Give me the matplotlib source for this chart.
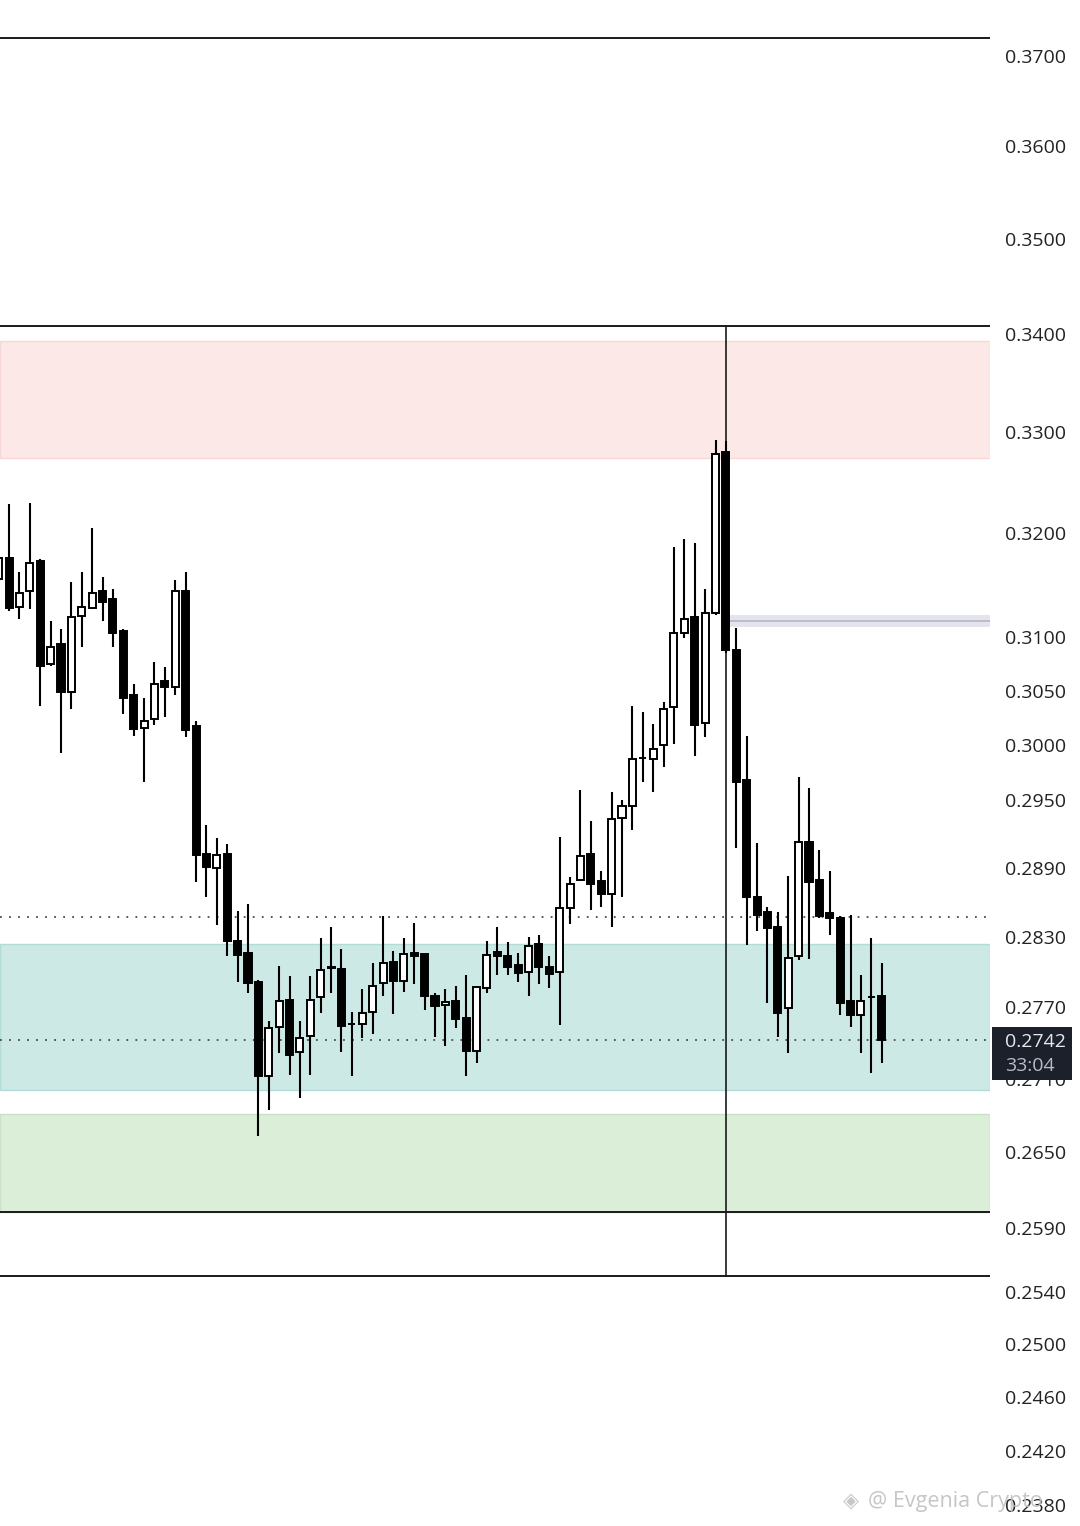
import matplotlib
matplotlib.use("Agg")
import matplotlib.pyplot as plt
from matplotlib.patches import Rectangle
from matplotlib.ticker import FixedLocator, FuncFormatter, NullLocator

plt.rcParams['font.family'] = ['Open Sans', 'DejaVu Sans']

# candle data
opens = [0.3156, 0.3176, 0.3129, 0.3144, 0.3173, 0.3075, 0.3094, 0.3049, 0.3120, 0.3128,
         0.3144, 0.3136, 0.3106, 0.3046, 0.3016, 0.3024, 0.3059, 0.3053, 0.3144, 0.3017,
         0.2902, 0.2890, 0.2902, 0.2826, 0.2816, 0.2791, 0.2712, 0.2753, 0.2776, 0.2732,
         0.2746, 0.2778, 0.2803, 0.2802, 0.2756, 0.2756, 0.2766, 0.2790, 0.2808, 0.2792,
         0.2816, 0.2815, 0.2779, 0.2772, 0.2775, 0.2761, 0.2733, 0.2786, 0.2817, 0.2813,
         0.2806, 0.2800, 0.2824, 0.2804, 0.2800, 0.2855, 0.2879, 0.2902, 0.2878, 0.2867,
         0.2934, 0.2945, 0.2988, 0.2987, 0.3000, 0.3035, 0.3104, 0.3119, 0.3020, 0.3123,
         0.3280, 0.3088, 0.2968, 0.2864, 0.2851, 0.2838, 0.2769, 0.2813, 0.2913, 0.2879,
         0.2850, 0.2846, 0.2775, 0.2763, 0.2778, 0.2779]
highs = [0.3240, 0.3228, 0.3162, 0.3229, 0.3175, 0.3115, 0.3108, 0.3153, 0.3162, 0.3205,
         0.3157, 0.3146, 0.3108, 0.3056, 0.3043, 0.3077, 0.3072, 0.3155, 0.3162, 0.3022,
         0.2928, 0.2916, 0.2911, 0.2852, 0.2858, 0.2793, 0.2758, 0.2805, 0.2796, 0.2758,
         0.2796, 0.2829, 0.2838, 0.2819, 0.2766, 0.2785, 0.2807, 0.2848, 0.2818, 0.2829,
         0.2842, 0.2816, 0.2782, 0.2785, 0.2788, 0.2797, 0.2788, 0.2826, 0.2838, 0.2825,
         0.2816, 0.2830, 0.2831, 0.2813, 0.2917, 0.2882, 0.2959, 0.2931, 0.2887, 0.2957,
         0.2950, 0.3036, 0.3030, 0.3019, 0.3040, 0.3186, 0.3194, 0.3190, 0.3146, 0.3292,
         0.3291, 0.3109, 0.3008, 0.2912, 0.2856, 0.2851, 0.2883, 0.2971, 0.2961, 0.2906,
         0.2887, 0.2848, 0.2849, 0.2797, 0.2829, 0.2807]
lows = [0.3150, 0.3125, 0.3117, 0.3127, 0.3036, 0.3073, 0.2993, 0.3033, 0.3091, 0.3127,
        0.3115, 0.3091, 0.3028, 0.3008, 0.2966, 0.3018, 0.3026, 0.3046, 0.3007, 0.2877,
        0.2864, 0.2840, 0.2813, 0.2791, 0.2782, 0.2663, 0.2684, 0.2731, 0.2713, 0.2694,
        0.2713, 0.2765, 0.2782, 0.2732, 0.2712, 0.2744, 0.2747, 0.2779, 0.2764, 0.2783,
        0.2789, 0.2767, 0.2745, 0.2737, 0.2752, 0.2712, 0.2723, 0.2782, 0.2797, 0.2797,
        0.2791, 0.2779, 0.2789, 0.2786, 0.2755, 0.2841, 0.2878, 0.2853, 0.2856, 0.2838,
        0.2864, 0.2923, 0.2966, 0.2957, 0.2980, 0.3001, 0.3099, 0.2990, 0.3007, 0.3121,
        0.3085, 0.2907, 0.2823, 0.2835, 0.2773, 0.2745, 0.2731, 0.2810, 0.2811, 0.2846,
        0.2831, 0.2763, 0.2753, 0.2731, 0.2715, 0.2723]
closes = [0.3176, 0.3128, 0.3142, 0.3171, 0.3073, 0.3091, 0.3049, 0.3119, 0.3129, 0.3142,
          0.3134, 0.3104, 0.3043, 0.3015, 0.3022, 0.3056, 0.3053, 0.3144, 0.3014, 0.2901,
          0.2891, 0.2901, 0.2826, 0.2814, 0.2790, 0.2712, 0.2752, 0.2775, 0.2730, 0.2744,
          0.2776, 0.2801, 0.2804, 0.2754, 0.2756, 0.2765, 0.2788, 0.2807, 0.2792, 0.2815,
          0.2813, 0.2779, 0.2771, 0.2774, 0.2760, 0.2733, 0.2787, 0.2814, 0.2813, 0.2804,
          0.2799, 0.2822, 0.2804, 0.2798, 0.2855, 0.2876, 0.2900, 0.2876, 0.2867, 0.2933,
          0.2945, 0.2987, 0.2988, 0.2996, 0.3033, 0.3104, 0.3117, 0.3018, 0.3123, 0.3278,
          0.3088, 0.2966, 0.2864, 0.2849, 0.2837, 0.2765, 0.2812, 0.2913, 0.2877, 0.2848,
          0.2846, 0.2773, 0.2763, 0.2775, 0.2778, 0.2742]

price_ticks = [0.3700, 0.3600, 0.3500, 0.3400, 0.3300, 0.3200, 0.3100, 0.3050, 0.3000,
               0.2950, 0.2890, 0.2830, 0.2770, 0.2710, 0.2650, 0.2590, 0.2540, 0.2500,
               0.2460, 0.2420, 0.2380]

# drawn levels and zones
top_line = 0.3721
range_high = 0.3408
range_low = 0.2552
supply_zone = (0.3274, 0.3393)
demand_zone = (0.2701, 0.2824)
lower_zone = (0.2602, 0.2681)
grey_band = (0.3110, 0.3121)
dotted_levels = [0.2847, 0.2742]
marker_bar = 70
last_price = "0.2742"
countdown = "33:04"

W, H = 1080, 1526
X0, X1 = 0.13, 95.42
fig = plt.figure(figsize=(W / 100, H / 100), dpi=100)
ax = fig.add_axes([0, 0, 990 / W, 1])
ax.set_yscale('log')
ax.set_ylim(0.2365, 0.3764)
ax.set_xlim(X0, X1)

# zones
ax.axhspan(*supply_zone, color='#fce9e7', ec='#f6d8d6', lw=1, zorder=0)
ax.axhspan(*demand_zone, color='#cde9e5', ec='#b3dcd6', lw=1, zorder=0)
ax.axhspan(*lower_zone, color='#dbeed8', ec='#c8e3c4', lw=1, zorder=0)
ax.axhspan(*grey_band, xmin=(marker_bar - X0) / (X1 - X0), xmax=1,
           color='#e4e4ec', lw=0, zorder=0)
ax.plot([marker_bar, X1], [sum(grey_band) / 2] * 2, color='#b4b4c6', lw=1.2, zorder=1)

for lv in [top_line, range_high, lower_zone[0], range_low]:
    ax.axhline(lv, color='#1a1a1a', lw=1.4, zorder=1)
ax.plot([marker_bar, marker_bar], [range_low, range_high], color='#1a1a1a', lw=1.2, zorder=1)
for lv in dotted_levels:
    ax.axhline(lv, color='#4a4a4a', lw=1.3, ls=(0, (1, 4)), zorder=1)

# candles
xs = list(range(len(opens)))
ax.vlines(xs, lows, highs, color='black', lw=1.5, zorder=2)
for i in xs:
    o, c = opens[i], closes[i]
    up = c >= o
    ax.bar(i, abs(c - o), bottom=min(o, c), width=0.68,
           facecolor='white' if up else 'black', edgecolor='black', lw=1.4, zorder=3)

# axis
for s in ax.spines.values():
    s.set_visible(False)
ax.set_xticks([])
ax.yaxis.tick_right()
ax.yaxis.set_major_locator(FixedLocator(price_ticks))
ax.yaxis.set_minor_locator(NullLocator())
ax.yaxis.set_major_formatter(FuncFormatter(lambda v, p: f"{v:.4f}"))
ax.tick_params(axis='y', length=0, pad=11, labelsize=14, labelcolor='#222222')

# last price label
def fx(px):
    return px / W

def fy(py):
    return 1 - py / H

fig.add_artist(Rectangle((fx(992), fy(1080)), fx(80), 53 / H, transform=fig.transFigure,
                         facecolor='#1c202b', edgecolor='none', zorder=5))
fig.text(fx(1005), fy(1042), last_price, color='#e8e8ec', fontsize=14, va='center', zorder=6)
fig.text(fx(1005), fy(1066), countdown, color='#b8bcc6', fontsize=14, va='center', zorder=6)

# watermark
fig.text(fx(851), fy(1501), "\u25c8", color='#c8c8c8', fontsize=15, ha='center', va='center',
         family=['DejaVu Sans'], zorder=4)
fig.text(fx(868), fy(1501), "@ Evgenia Crypto", color='#c0c0c0', fontsize=15.5,
         va='center', zorder=4, alpha=0.9)

fig.savefig("out.png", dpi=100, facecolor='white')
